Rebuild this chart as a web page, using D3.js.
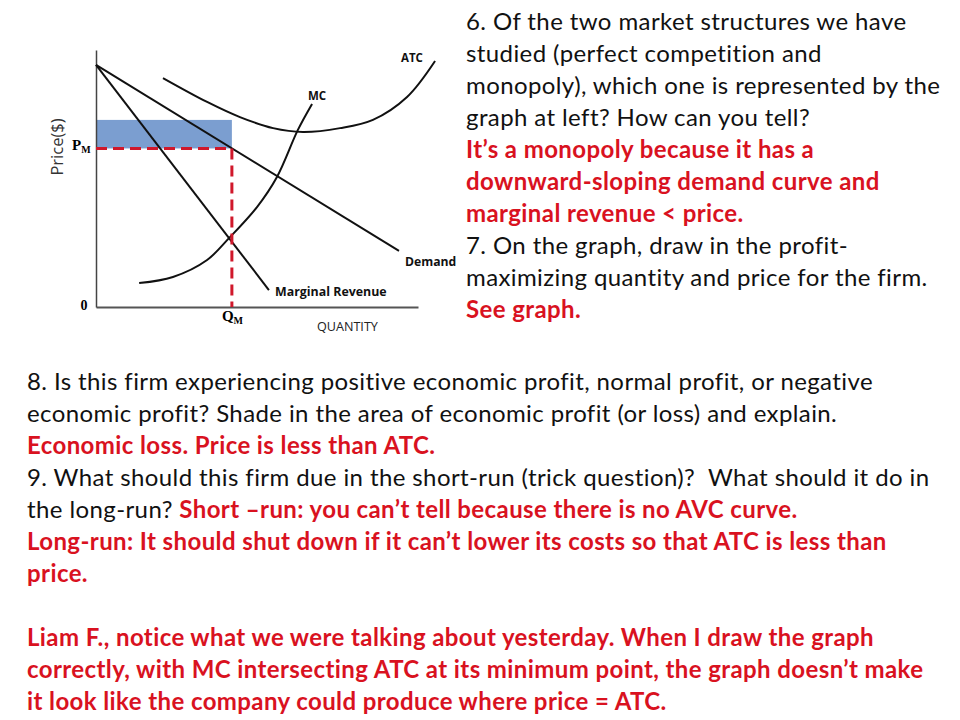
<!DOCTYPE html>
<html lang="en">
  <head>
    <script src="https://d3js.org/d3.v7.min.js"></script>
    <meta charset="utf-8">
    <title>Monopoly graph</title>
    <style>
      body { margin: 0; background: #fff; }
      text { white-space: pre; }
    </style>
  </head>
  <body>
    <svg id="slide" width="960" height="720"></svg>
    <script type="text/javascript">

    // curve values (quantity 0-100, price 0-100)
    var demandQ = [0, 94.1];
    var demandP = [94.2, 21.8];

    var mrQ = [0, 53.7];
    var mrP = [94.2, 6.6];

    var mcQ = [13.4, 23.9, 34.5, 41.3, 50.0, 56.2, 62.7, 67.1];
    var mcP = [9.3, 11.7, 18.3, 26.8, 38.9, 50.6, 68.9, 79.0];

    var atcQ = [20.8, 34.5, 44.7, 55.0, 64.3, 75.8, 86.0, 96.6, 105.3];
    var atcP = [89.1, 79.8, 73.9, 69.6, 68.1, 69.6, 72.8, 81.7, 95.7];

    var qM = 42.2;       // profit-maximizing quantity
    var pM = 61.7;       // price on demand at qM
    var atcAtQm = 72.8;  // ATC at qM (top of the loss box)

    // slide text, each line is a list of [text, isAnswer]
    var rightLines = [
      [["6. Of the two market structures we have", 0]],
      [["studied (perfect competition and", 0]],
      [["monopoly), which one is represented by the", 0]],
      [["graph at left? How can you tell?", 0]],
      [["It\u2019s a monopoly because it has a", 1]],
      [["downward-sloping demand curve and", 1]],
      [["marginal revenue < price.", 1]],
      [["7. On the graph, draw in the profit-", 0]],
      [["maximizing quantity and price for the firm.", 0]],
      [["See graph.", 1]]
    ];
    var bottomLines = [
      [["8. Is this firm experiencing positive economic profit, normal profit, or negative", 0]],
      [["economic profit? Shade in the area of economic profit (or loss) and explain.", 0]],
      [["Economic loss. Price is less than ATC.", 1]],
      [["9. What should this firm due in the short-run (trick question)?  What should it do in", 0]],
      [["the long-run? ", 0], ["Short \u2013run: you can\u2019t tell because there is no AVC curve.", 1]],
      [["Long-run: It should shut down if it can\u2019t lower its costs so that ATC is less than", 1]],
      [["price.", 1]],
      [["", 0]],
      [["Liam F., notice what we were talking about yesterday. When I draw the graph", 1]],
      [["correctly, with MC intersecting ATC at its minimum point, the graph doesn\u2019t make", 1]],
      [["it look like the company could produce where price = ATC.", 1]]
    ];

    var svg = d3.select("#slide");
    svg.append("rect").attr("width", 960).attr("height", 720).attr("fill", "#fff");

    var red = "#d9121f";

    var x = d3.scaleLinear().domain([0, 100]).range([96, 418]);
    var y = d3.scaleLinear().domain([0, 100]).range([307, 50]);

    var chart = svg.append("g").attr("class", "chart");

    // shaded loss area
    chart.append("rect")
      .attr("x", x(0))
      .attr("y", y(atcAtQm))
      .attr("width", x(qM) - x(0))
      .attr("height", y(pM) - y(atcAtQm))
      .attr("fill", "#7b9ed0");

    // axes
    chart.append("g")
      .attr("transform", "translate(0," + y(0) + ")")
      .call(d3.axisBottom(x).tickValues([]).tickSizeOuter(0))
      .select(".domain").attr("stroke", "#555").attr("stroke-width", 2);
    chart.append("g")
      .attr("transform", "translate(" + x(0) + ",0)")
      .call(d3.axisLeft(y).tickValues([]).tickSizeOuter(0))
      .select(".domain").attr("stroke", "#444").attr("stroke-width", 1.5);

    var zip = function(qs, ps) {
      return qs.map(function(q, i) { return [q, ps[i]]; });
    };

    var straight = d3.line()
      .x(function(d) { return x(d[0]); })
      .y(function(d) { return y(d[1]); });
    var smooth = d3.line()
      .x(function(d) { return x(d[0]); })
      .y(function(d) { return y(d[1]); })
      .curve(d3.curveCatmullRom.alpha(0.5));

    var curves = [
      { pts: zip(demandQ, demandP), gen: straight },
      { pts: zip(mrQ, mrP), gen: straight },
      { pts: zip(mcQ, mcP), gen: smooth },
      { pts: zip(atcQ, atcP), gen: smooth }
    ];
    chart.selectAll("path.curve")
      .data(curves)
      .enter()
      .append("path")
      .attr("class", "curve")
      .attr("d", function(d) { return d.gen(d.pts); })
      .attr("fill", "none")
      .attr("stroke", "#111")
      .attr("stroke-width", 2);

    // red dashed guides to PM and QM
    chart.append("path")
      .attr("d", straight([[0, pM], [qM, pM], [qM, 0]]))
      .attr("fill", "none")
      .attr("stroke", "#d0182b")
      .attr("stroke-width", 3)
      .attr("stroke-dasharray", "11,6");

    // curve labels
    var sans = "'Open Sans', 'DejaVu Sans', sans-serif";
    var labels = [
      { t: "ATC", x: 401, y: 62, size: 11.5 },
      { t: "MC", x: 308, y: 100, size: 11.5 },
      { t: "Demand", x: 405, y: 266, size: 12.2 },
      { t: "Marginal Revenue", x: 275, y: 296, size: 12.4 }
    ];
    chart.selectAll("text.lbl")
      .data(labels)
      .enter()
      .append("text")
      .attr("class", "lbl")
      .attr("x", function(d) { return d.x; })
      .attr("y", function(d) { return d.y; })
      .attr("font-family", sans)
      .attr("font-weight", "bold")
      .attr("font-size", function(d) { return d.size; })
      .attr("fill", "#111")
      .text(function(d) { return d.t; });

    chart.append("text")
      .attr("x", 317).attr("y", 331)
      .attr("font-family", sans)
      .attr("font-size", 12.6)
      .attr("fill", "#222")
      .text("QUANTITY");

    chart.append("text")
      .attr("transform", "translate(63," + 147 + ") rotate(-90)")
      .attr("text-anchor", "middle")
      .attr("font-family", sans)
      .attr("font-size", 16.5)
      .attr("fill", "#333")
      .text("Price($)");

    var serif = "'Liberation Serif', 'DejaVu Serif', serif";
    chart.append("text")
      .attr("x", x(0) - 12).attr("y", y(0) + 3)
      .attr("text-anchor", "middle")
      .attr("font-family", serif).attr("font-weight", "bold").attr("font-size", 14)
      .text("0");

    var pLab = chart.append("text")
      .attr("x", x(0) - 24).attr("y", y(pM) + 2)
      .attr("font-family", serif).attr("font-weight", "bold").attr("font-size", 15);
    pLab.append("tspan").text("P");
    pLab.append("tspan").attr("font-size", 10).attr("dy", 3).text("M");

    var qLab = chart.append("text")
      .attr("x", x(qM) - 10).attr("y", y(0) + 14)
      .attr("font-family", serif).attr("font-weight", "bold").attr("font-size", 15);
    qLab.append("tspan").text("Q");
    qLab.append("tspan").attr("font-size", 10).attr("dy", 3).text("M");

    // slide text blocks
    var writeBlock = function(lines, x0, y0, step) {
      var g = svg.append("g")
        .attr("font-family", "Lato, 'Open Sans', sans-serif")
        .attr("font-size", 24)
        .attr("letter-spacing", 0.4);
      g.selectAll("text")
        .data(lines)
        .enter()
        .append("text")
        .attr("x", x0)
        .attr("y", function(d, i) { return y0 + i * step; })
        .each(function(d) {
          var t = d3.select(this);
          d.forEach(function(seg) {
            t.append("tspan")
              .attr("fill", seg[1] ? red : "#111")
              .attr("font-weight", seg[1] ? "bold" : "normal")
              .text(seg[0]);
          });
        });
    };
    writeBlock(rightLines, 466, 30, 32);
    writeBlock(bottomLines, 27, 390, 32);

    </script>
  </body>
</html>
